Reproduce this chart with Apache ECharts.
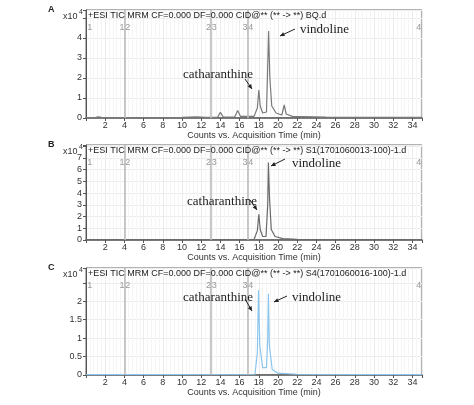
<!DOCTYPE html>
<html><head><meta charset="utf-8">
<script src="https://cdn.jsdelivr.net/npm/echarts@6/dist/echarts.min.js"></script>
<style>html,body{margin:0;padding:0;background:#fff}#c{width:474px;height:405px}</style>
</head><body><div id="c"></div>
<script>
const xTicks=[2,4,6,8,10,12,14,16,18,20,22,24,26,28,30,32,34];
const segLines=[4.0,13.0,16.8];
const segLabels=[[0.35,'1'],[3.7,'1'],[4.3,'2'],[12.7,'2'],[13.3,'3'],[16.5,'3'],[17.1,'4'],[34.6,'4']];
const titles=['+ESI TIC MRM CF=0.000 DF=0.000 CID@** (** -> **) BQ.d',
 '+ESI TIC MRM CF=0.000 DF=0.000 CID@** (** -> **) S1(1701060013-100)-1.d',
 '+ESI TIC MRM CF=0.000 DF=0.000 CID@** (** -> **) S4(1701060016-100)-1.d'];
const seriesA=[[0,0.02],[1,0.03],[1.3,0.06],[1.6,0.03],[4,0.02],[10,0.03],[11.5,0.06],[12.5,0.03],[13.7,0.04],[14,0.28],[14.3,0.05],[15.5,0.06],[15.8,0.38],[16.1,0.08],[17.5,0.08],[17.85,0.5],[18,1.4],[18.15,0.6],[18.4,0.25],[18.8,0.3],[18.95,3.0],[19.02,4.35],[19.15,2.0],[19.35,0.6],[19.8,0.25],[20.4,0.15],[20.65,0.65],[20.85,0.2],[21.5,0.08],[25,0.05],[35,0.03]];
const seriesB=[[0,0.02],[13,0.02],[17.5,0.05],[17.85,0.8],[18,2.2],[18.15,0.9],[18.4,0.3],[18.75,0.3],[18.93,3.0],[19.0,6.6],[19.12,3.5],[19.3,0.9],[19.7,0.3],[20.5,0.12],[22,0.05],[35,0.02]];
const seriesC=[[0,0.01],[17.6,0.02],[17.85,0.6],[17.97,2.3],[18.1,0.8],[18.4,0.2],[18.8,0.2],[18.93,1.0],[19.0,2.2],[19.1,0.8],[19.4,0.15],[20,0.05],[22,0.02],[35,0.01]];
const yMax=[5.4,8.1,2.9];
const yLabelMax=[4,7,2];
const yInterval=[1,1,0.5];
const grids=[{top:10,height:108},{top:145,height:95},{top:268,height:107}];
const colors=['#7a7a7a','#6a6a6a','#8cc6ee'];
const datas=[seriesA,seriesB,seriesC];
const SANS='Liberation Sans';

const chart=echarts.init(document.getElementById('c'));
const opt={animation:false,grid:[],xAxis:[],yAxis:[],series:[],graphic:[]};
for(let i=0;i<3;i++){
  opt.grid.push({left:86,right:52,top:grids[i].top,height:grids[i].height,show:true,borderColor:'#666',borderWidth:1});
  opt.xAxis.push({type:'value',gridIndex:i,min:0,max:35,interval:2,
    name:'Counts vs. Acquisition Time (min)',nameLocation:'middle',nameGap:13,
    nameTextStyle:{fontSize:9,color:'#333',fontFamily:SANS},
    axisLine:{lineStyle:{color:'#555',width:1.5}},axisTick:{length:3,lineStyle:{color:'#555'}},
    axisLabel:{fontSize:9,color:'#333',margin:3,fontFamily:SANS,
      formatter:v=>xTicks.includes(v)?String(v):''},
    splitLine:{show:true,lineStyle:{color:'#ececec'}},
    minorTick:{show:false},minorSplitLine:{show:true,lineStyle:{color:'#f5f5f5'}}});
  const lm=yLabelMax[i];
  opt.yAxis.push({type:'value',gridIndex:i,min:0,max:yMax[i],interval:yInterval[i],
    axisLine:{show:true,lineStyle:{color:'#555'}},axisTick:{show:true,length:3,lineStyle:{color:'#555'}},
    axisLabel:{fontSize:9,color:'#333',margin:4,fontFamily:SANS,formatter:v=>v<=lm+1e-9?String(v):''},
    splitLine:{show:true,lineStyle:{color:'#ececec'}}});
  opt.series.push({type:'line',xAxisIndex:i,yAxisIndex:i,data:datas[i],showSymbol:false,
    lineStyle:{color:colors[i],width:1.2},
    markLine:{silent:true,symbol:'none',label:{show:false},
      lineStyle:{color:'#bbb',width:1.6,type:'solid'},
      data:segLines.map(v=>({xAxis:v}))}});
}
chart.setOption(opt);
const g=[];
const letters=['A','B','C'];
function txt(x,y,t,size,color,family,weight){
  return {type:'text',z:100,x:x,y:y,style:{text:t,fontSize:size,fill:color,fontFamily:family,fontWeight:weight||'normal',stroke:null,lineWidth:0}};
}
for(let i=0;i<3;i++){
  const top=grids[i].top;
  g.push(txt(48,top-5,letters[i],9,'#222',SANS,'bold'));
  g.push(txt(63,top+2,'x10',9,'#333',SANS));
  g.push(txt(79,top-1,'4',7,'#333',SANS));
  g.push(txt(88,top+1,titles[i],9,'#222',SANS));
  segLabels.forEach(([x,t])=>{
    const p=chart.convertToPixel({xAxisIndex:i,yAxisIndex:i},[x,0]);
    g.push(txt(p[0]-2,top+13,t,9,'#999',SANS));
  });
}
const ann=[
 ['vindoline',300,23,295,29,280,36],
 ['catharanthine',183,68,245,79,252,89],
 ['catharanthine',187,195,250,200,257,210],
 ['vindoline',292,157,285,159,271,166],
 ['catharanthine',183,291,245,299,252,311],
 ['vindoline',292,291,287,296,274,302]];
ann.forEach(([t,x,y,x1,y1,x2,y2])=>{
  g.push(txt(x,y,t,13,'#222','Liberation Serif'));
  g.push({type:'line',z:100,shape:{x1,y1,x2,y2},style:{stroke:'#222',lineWidth:1}});
  const a=Math.atan2(y2-y1,x2-x1);
  const L=5;
  g.push({type:'polygon',z:100,shape:{points:[[x2,y2],[x2-L*Math.cos(a-0.45),y2-L*Math.sin(a-0.45)],[x2-L*Math.cos(a+0.45),y2-L*Math.sin(a+0.45)]]},style:{fill:'#222'}});
});
chart.setOption({graphic:g});
</script></body></html>
